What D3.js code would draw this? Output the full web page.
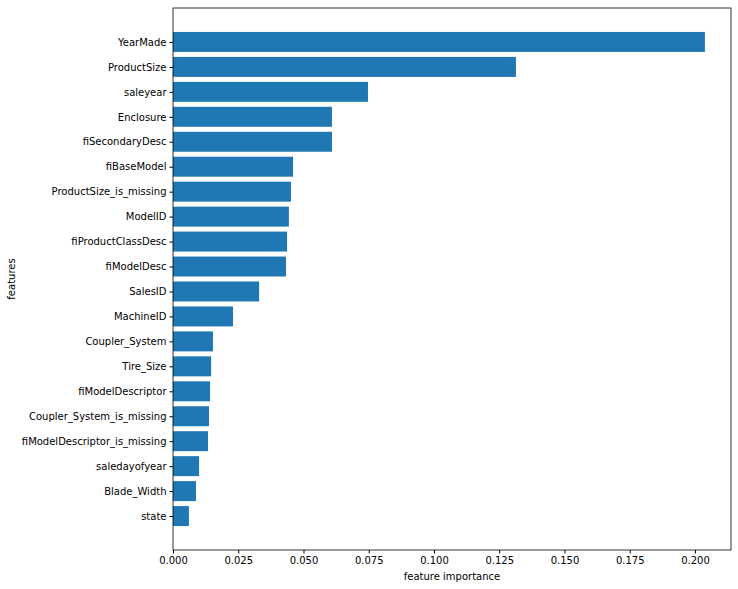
<!DOCTYPE html>
<html><head><meta charset="utf-8">
<script src="https://cdn.jsdelivr.net/npm/d3@7"></script>
<style>body{margin:0;background:#fff}text{font-family:"DejaVu Sans",sans-serif}</style>
</head><body><svg id="c" width="738" height="589"></svg>
<script>
const features=["YearMade","ProductSize","saleyear","Enclosure","fiSecondaryDesc","fiBaseModel","ProductSize_is_missing","ModelID","fiProductClassDesc","fiModelDesc","SalesID","MachineID","Coupler_System","Tire_Size","fiModelDescriptor","Coupler_System_is_missing","fiModelDescriptor_is_missing","saledayofyear","Blade_Width","state"];
const importance=[0.2038,0.1314,0.0747,0.0609,0.0609,0.0460,0.0452,0.0444,0.0437,0.0433,0.0330,0.0230,0.0153,0.0146,0.0142,0.0138,0.0134,0.0100,0.0088,0.0061];
const xTicks=[0,0.025,0.05,0.075,0.1,0.125,0.15,0.175,0.2];
const svg=d3.select("#c");
const L=173,R=731,T=8,B=550;
const x=d3.scaleLinear().domain([0,0.2138]).range([L,R]);
const y=d3.scaleLinear().domain([-1.36,20.36]).range([T,B]);
svg.selectAll("rect.bar").data(importance).join("rect").attr("class","bar")
 .attr("x",x(0)).attr("y",(d,i)=>y(i-0.4)).attr("width",d=>x(d)-x(0))
 .attr("height",(d,i)=>y(i+0.4)-y(i-0.4)).attr("fill","#1f77b4");
svg.append("rect").attr("x",L).attr("y",T).attr("width",R-L).attr("height",B-T).attr("fill","none").attr("stroke","#000").attr("stroke-width",0.8);
const xa=svg.append("g").attr("transform",`translate(0,${B})`).call(d3.axisBottom(x).tickValues(xTicks).tickFormat(d3.format(".3f")).tickSize(3.5).tickSizeOuter(0));
xa.select(".domain").remove();
xa.selectAll("text").attr("font-size",10).attr("fill","#000").attr("font-family","DejaVu Sans");
const ya=svg.append("g").attr("transform",`translate(${L},0)`).call(d3.axisLeft(y).tickValues(d3.range(features.length)).tickFormat(i=>features[i]).tickSize(3.5).tickSizeOuter(0));
ya.select(".domain").remove();
ya.selectAll("text").attr("font-size",10).attr("fill","#000").attr("font-family","DejaVu Sans");
svg.append("text").attr("x",(L+R)/2).attr("y",580).attr("text-anchor","middle").attr("font-size",10).text("feature importance");
svg.append("text").attr("transform",`translate(15,${(T+B)/2}) rotate(-90)`).attr("text-anchor","middle").attr("font-size",10).text("features");
</script></body></html>
